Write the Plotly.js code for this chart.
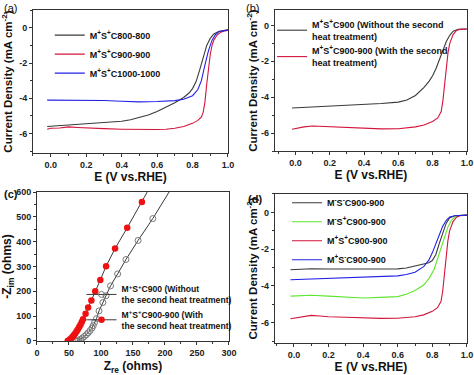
<!DOCTYPE html>
<html>
<head>
<meta charset="utf-8">
<script src="https://cdn.plot.ly/plotly-3.0.1.min.js"></script>
<style>html,body{margin:0;padding:0;background:#fff;}#chart{width:474px;height:375px;}</style>
</head>
<body>
<div id="chart"></div>
<script>
// ---------- Panel (a) ----------
const aE_black = [-0.02, 0.1, 0.2, 0.3, 0.4, 0.45, 0.5, 0.55, 0.6, 0.65, 0.7, 0.75, 0.78, 0.8, 0.82, 0.84, 0.86, 0.88, 0.9, 0.92, 0.95, 1.0];
const aJ_black = [-5.6, -5.52, -5.45, -5.38, -5.3, -5.22, -5.1, -4.95, -4.75, -4.5, -4.25, -3.95, -3.7, -3.45, -3.05, -2.4, -1.65, -1.0, -0.6, -0.35, -0.2, -0.12];
const aE_red = [-0.02, 0.0, 0.05, 0.1, 0.15, 0.2, 0.3, 0.4, 0.5, 0.6, 0.65, 0.7, 0.75, 0.8, 0.83, 0.85, 0.86, 0.87, 0.88, 0.89, 0.9, 0.91, 0.92, 0.94, 0.96, 0.98, 1.0];
const aJ_red = [-5.75, -5.7, -5.68, -5.62, -5.65, -5.68, -5.72, -5.75, -5.77, -5.77, -5.75, -5.7, -5.6, -5.42, -5.25, -5.05, -4.8, -4.2, -3.2, -2.2, -1.5, -1.0, -0.7, -0.4, -0.25, -0.18, -0.15];
const aE_blue = [-0.02, 0.1, 0.2, 0.3, 0.4, 0.5, 0.6, 0.7, 0.75, 0.8, 0.83, 0.85, 0.87, 0.89, 0.91, 0.93, 0.95, 1.0];
const aJ_blue = [-4.1, -4.1, -4.1, -4.12, -4.17, -4.2, -4.18, -4.13, -4.05, -3.85, -3.5, -3.0, -2.1, -1.3, -0.7, -0.38, -0.22, -0.12];
const aNames = ["M<sup>+</sup>S<sup>+</sup>C800-800", "M<sup>+</sup>S<sup>+</sup>C900-900", "M<sup>+</sup>S<sup>+</sup>C1000-1000"];

// ---------- Panel (b) ----------
const bE_black = [-0.02, 0.1, 0.2, 0.3, 0.4, 0.5, 0.6, 0.65, 0.7, 0.75, 0.78, 0.8, 0.82, 0.84, 0.86, 0.88, 0.9, 0.92, 0.95, 1.0];
const bJ_black = [-4.6, -4.55, -4.5, -4.46, -4.4, -4.35, -4.27, -4.15, -3.9, -3.45, -3.1, -2.8, -2.4, -1.9, -1.4, -0.9, -0.55, -0.32, -0.22, -0.2];
const bE_red = [-0.02, 0.05, 0.1, 0.15, 0.2, 0.3, 0.4, 0.5, 0.6, 0.65, 0.7, 0.75, 0.8, 0.83, 0.85, 0.86, 0.87, 0.88, 0.89, 0.9, 0.92, 0.94, 0.96, 1.0];
const bJ_red = [-5.78, -5.65, -5.6, -5.62, -5.66, -5.7, -5.75, -5.76, -5.75, -5.72, -5.65, -5.55, -5.35, -5.15, -4.8, -4.2, -3.3, -2.3, -1.5, -1.0, -0.5, -0.28, -0.22, -0.2];
const bNames = ["M<sup>+</sup>S<sup>+</sup>C900 (Without the second<br>heat treatment)", "M<sup>+</sup>S<sup>+</sup>C900-900 (With the second<br>heat treatment)"];

// ---------- Panel (c) Nyquist ----------
const cZre_without = [62, 65, 68, 71, 74, 77, 80, 83, 86, 88, 90, 93, 97, 103, 108, 115, 126, 139, 158, 181, 216];
const cZim_without = [0, 3, 7, 12, 18, 25, 33, 42, 52, 62, 75, 90, 121, 155, 182, 222, 270, 328, 405, 493, 640];
const cZre_with = [48, 50, 52, 54, 56, 58, 60, 62, 64, 66, 68, 70, 72, 76, 80, 85, 91, 99, 108, 122, 141, 164, 181];
const cZim_with = [0, 3, 7, 12, 18, 24, 31, 39, 47, 56, 65, 76, 88, 110, 135, 163, 200, 246, 301, 372, 456, 560, 640];
const cNames = ["M<sup>+</sup>S<sup>+</sup>C900 (Without<br>the second heat treatment)", "M<sup>+</sup>S<sup>+</sup>C900-900 (With<br>the second heat treatment)"];

// ---------- Panel (d) ----------
const dE_black = [-0.02, 0.1, 0.2, 0.3, 0.4, 0.5, 0.6, 0.65, 0.7, 0.75, 0.78, 0.8, 0.82, 0.84, 0.86, 0.88, 0.9, 0.93, 1.0];
const dJ_black = [-3.12, -3.06, -3.08, -3.08, -3.09, -3.08, -3.07, -3.02, -2.92, -2.82, -2.74, -2.62, -2.3, -1.7, -1.1, -0.6, -0.3, -0.18, -0.15];
const dE_green = [-0.02, 0.1, 0.2, 0.3, 0.4, 0.5, 0.6, 0.65, 0.7, 0.75, 0.78, 0.81, 0.83, 0.85, 0.87, 0.89, 0.91, 0.93, 0.96, 1.0];
const dJ_green = [-4.55, -4.5, -4.55, -4.62, -4.65, -4.62, -4.58, -4.45, -4.25, -3.95, -3.6, -3.1, -2.5, -1.9, -1.3, -0.8, -0.45, -0.25, -0.17, -0.15];
const dE_red = [-0.02, 0.05, 0.1, 0.15, 0.2, 0.3, 0.4, 0.5, 0.6, 0.65, 0.7, 0.75, 0.8, 0.83, 0.85, 0.86, 0.87, 0.88, 0.89, 0.9, 0.92, 0.94, 0.96, 1.0];
const dJ_red = [-5.78, -5.66, -5.6, -5.63, -5.67, -5.7, -5.75, -5.76, -5.75, -5.73, -5.67, -5.57, -5.38, -5.18, -4.85, -4.3, -3.4, -2.4, -1.55, -1.0, -0.5, -0.26, -0.18, -0.15];
const dE_blue = [-0.02, 0.1, 0.2, 0.3, 0.4, 0.5, 0.6, 0.65, 0.7, 0.75, 0.78, 0.8, 0.82, 0.84, 0.86, 0.88, 0.9, 0.93, 1.0];
const dJ_blue = [-3.66, -3.62, -3.6, -3.57, -3.55, -3.5, -3.45, -3.38, -3.25, -2.95, -2.6, -2.2, -1.7, -1.2, -0.75, -0.45, -0.25, -0.18, -0.15];
const dNames = ["M<sup>-</sup>S<sup>-</sup>C900-900", "M<sup>-</sup>S<sup>+</sup>C900-900", "M<sup>+</sup>S<sup>+</sup>C900-900", "M<sup>+</sup>S<sup>-</sup>C900-900"];

// ---------- ticks ----------
const jTickVals = [0, -2, -4, -6];
const jTickText = ["0", "-2", "-4", "-6"];
const eTickVals = [0, 0.2, 0.4, 0.6, 0.8, 1.0];
const eTickText = ["0.0", "0.2", "0.4", "0.6", "0.8", "1.0"];
const zreTickVals = [0, 50, 100, 150, 200, 250, 300];
const zimTickVals = [0, 100, 200, 300, 400, 500, 600];
const panelLabels = ["(a)", "(b)", "(c)", "(d)"];

const BLACK = "#3a3a3a", RED = "#d3143c", BLUE = "#2222e6", GREEN = "#5ee62e";
const FONT = "Liberation Sans, Arial, sans-serif";

function ln(x, y, color, name, xa, ya, leg) {
  return {x: x, y: y, type: "scatter", mode: "lines", name: name,
    line: {color: color, width: 1.1}, xaxis: xa, yaxis: ya, legend: leg};
}

const traces = [
  ln(aE_black, aJ_black, BLACK, aNames[0], "x", "y", "legend"),
  ln(aE_red, aJ_red, RED, aNames[1], "x", "y", "legend"),
  ln(aE_blue, aJ_blue, BLUE, aNames[2], "x", "y", "legend"),
  ln(bE_black, bJ_black, BLACK, bNames[0], "x2", "y2", "legend2"),
  ln(bE_red, bJ_red, RED, bNames[1], "x2", "y2", "legend2"),
  {x: cZre_without, y: cZim_without, type: "scatter", mode: "lines+markers", name: cNames[0],
    line: {color: BLACK, width: 1}, marker: {symbol: "circle-open", size: 6, color: "#777", line: {width: 1}},
    xaxis: "x3", yaxis: "y3", legend: "legend3"},
  {x: cZre_with, y: cZim_with, type: "scatter", mode: "lines+markers", name: cNames[1],
    line: {color: BLACK, width: 1}, marker: {symbol: "circle", size: 6.5, color: "#ee1111"},
    xaxis: "x3", yaxis: "y3", legend: "legend3"},
  ln(dE_black, dJ_black, BLACK, dNames[0], "x4", "y4", "legend4"),
  ln(dE_green, dJ_green, GREEN, dNames[1], "x4", "y4", "legend4"),
  ln(dE_red, dJ_red, RED, dNames[2], "x4", "y4", "legend4"),
  ln(dE_blue, dJ_blue, BLUE, dNames[3], "x4", "y4", "legend4")
];

const tickFont = {family: FONT, size: 9, color: "#222", weight: 700};
const titleFont = {family: FONT, size: 12, color: "#111", weight: 700};

function xaxisE(domain, range, anchor, standoff) {
  return {domain: domain, range: range, anchor: anchor, tickmode: "array", tickvals: eTickVals, ticktext: eTickText,
    ticks: "outside", ticklen: 3, tickwidth: 1, tickcolor: "#333", showline: true, linecolor: "#333", linewidth: 1,
    mirror: true, showgrid: false, zeroline: false, tickfont: tickFont,
    minor: {tickmode: "linear", tick0: 0, dtick: 0.1, ticks: "outside", ticklen: 2, tickcolor: "#333"},
    title: {text: "E (V vs.RHE)", font: titleFont, standoff: standoff}};
}
function yaxisJ(domain, range, anchor, standoff) {
  return {domain: domain, range: range, anchor: anchor, tickmode: "array", tickvals: jTickVals, ticktext: jTickText,
    ticks: "outside", ticklen: 3, tickwidth: 1, tickcolor: "#333", showline: true, linecolor: "#333", linewidth: 1,
    mirror: true, showgrid: false, zeroline: false, tickfont: tickFont,
    minor: {tickmode: "linear", tick0: 0, dtick: 1, ticks: "outside", ticklen: 2, tickcolor: "#333"},
    title: {text: "Current Density (mA cm<sup>-2</sup>)", font: {family: FONT, size: 11.5, color: "#111", weight: 700}, standoff: standoff}};
}

const legFont = {family: FONT, size: 9, color: "#111", weight: 700};
function leg(x, y, size) {
  return {x: x, y: y, xanchor: "left", yanchor: "top", bgcolor: "rgba(0,0,0,0)", borderwidth: 0,
    font: Object.assign({}, legFont, {size: size || 9}), itemwidth: 30, tracegroupgap: 0};
}

const layout = {
  width: 474, height: 375,
  margin: {l: 0, r: 0, t: 0, b: 0},
  paper_bgcolor: "#fff", plot_bgcolor: "#fff",
  font: {family: FONT},
  xaxis: xaxisE([0.0696, 0.481], [-0.1, 1.0], "y", 2),
  yaxis: yaxisJ([0.592, 0.973], [-7.1, 1.0], "x", 6),
  xaxis2: xaxisE([0.580, 0.985], [-0.12, 1.0], "y2", 1),
  yaxis2: yaxisJ([0.597, 0.973], [-7.0, 0.85], "x2", 1),
  xaxis3: {domain: [0.078, 0.483], range: [0, 300], anchor: "y3", tickmode: "array", tickvals: zreTickVals,
    ticks: "outside", ticklen: 3, tickcolor: "#333", showline: true, linecolor: "#333", linewidth: 1, mirror: true,
    showgrid: false, zeroline: false, tickfont: tickFont,
    minor: {tickmode: "linear", tick0: 0, dtick: 25, ticks: "outside", ticklen: 2, tickcolor: "#333"},
    title: {text: "Z<sub>re</sub> (ohms)", font: titleFont, standoff: 6}},
  yaxis3: {domain: [0.0907, 0.488], range: [0, 600], anchor: "x3", tickmode: "array", tickvals: zimTickVals,
    ticks: "outside", ticklen: 3, tickcolor: "#333", showline: true, linecolor: "#333", linewidth: 1, mirror: true,
    showgrid: false, zeroline: false, tickfont: tickFont,
    minor: {tickmode: "linear", tick0: 0, dtick: 50, ticks: "outside", ticklen: 2, tickcolor: "#333"},
    title: {text: "-Z<sub>im</sub> (ohms)", font: titleFont, standoff: 4}},
  xaxis4: xaxisE([0.580, 0.985], [-0.11, 1.0], "y4", 0),
  yaxis4: yaxisJ([0.0853, 0.4827], [-7.1, 1.0], "x4", 1),
  legend: leg(0.105, 0.945),
  legend2: leg(0.574, 0.968),
  legend3: leg(0.172, 0.262, 8.6),
  legend4: leg(0.6055, 0.498),
  annotations: [
    {text: panelLabels[0], x: 0.004, y: 1.0, xref: "paper", yref: "paper", xanchor: "left", yanchor: "top", showarrow: false, font: {family: FONT, size: 11, color: "#111"}},
    {text: panelLabels[1], x: 0.515, y: 1.0, xref: "paper", yref: "paper", xanchor: "left", yanchor: "top", showarrow: false, font: {family: FONT, size: 11, color: "#111"}},
    {text: panelLabels[2], x: 0.004, y: 0.503, xref: "paper", yref: "paper", xanchor: "left", yanchor: "top", showarrow: false, font: {family: FONT, size: 11, color: "#111", weight: 700}},
    {text: panelLabels[3], x: 0.52, y: 0.492, xref: "paper", yref: "paper", xanchor: "left", yanchor: "top", showarrow: false, font: {family: FONT, size: 11, color: "#111", weight: 700}}
  ]
};

Plotly.newPlot("chart", traces, layout, {staticPlot: true, displayModeBar: false});
</script>
</body>
</html>
